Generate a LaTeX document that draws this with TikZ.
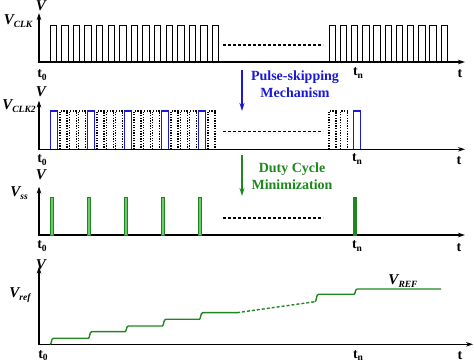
\documentclass[tikz,border=0pt]{standalone}
\usepackage{fontspec}
\setmainfont{Liberation Serif}
\usetikzlibrary{arrows.meta}
\definecolor{pblue}{RGB}{25,25,215}
\definecolor{pgreen}{RGB}{30,135,30}
\definecolor{lgreen}{RGB}{110,200,110}
\newcommand{\tl}[1]{t\raisebox{-0.4ex}{\fontsize{9.5}{10}\selectfont #1}}
\newcommand{\vl}[1]{V\raisebox{-0.45ex}{\fontsize{9.5}{10}\selectfont #1}}
\tikzset{
  axis/.style={line width=1.1pt,{Stealth[length=7pt,width=4.5pt]}-{Stealth[length=7pt,width=4.5pt]}},
  clk/.style={line width=0.9pt},
  dotclk/.style={line width=1.1pt,dash pattern=on 1.3pt off 1.3pt},
  dashline/.style={line width=1.2pt,dash pattern=on 3pt off 2pt},
  lbl/.style={inner sep=0pt,font=\fontsize{14}{16}\selectfont\bfseries},
  vlab/.style={inner sep=0pt,font=\fontsize{15}{17}\selectfont\bfseries\itshape},
  bluetxt/.style={inner sep=0pt,text=pblue,font=\fontsize{14}{16}\selectfont\bfseries},
  greentxt/.style={inner sep=0pt,text=pgreen,font=\fontsize{14}{16}\selectfont\bfseries},
  ssp/.style={draw=pgreen,fill=lgreen,line width=0.9pt},
  ref/.style={draw=pgreen,line width=1.4pt},
  bigarrow/.style={line width=1.3pt,-{Stealth[length=8pt,width=5pt]}}
}
\begin{document}
\begin{tikzpicture}[x=1pt,y=-1pt]
\useasboundingbox (0,0) rectangle (474,363);
% ---------- panel 1 : V_CLK ----------
\draw[axis] (39,13) -- (39,62) -- (465,62);
\foreach \i in {0,...,14}
  \draw[clk] ({50+11.6*\i},62) -- ++(0,-37) -- ++(6.5,0) -- ++(0,37);
\foreach \i in {0,...,10}
  \draw[clk] ({329+11.2*\i},62) -- ++(0,-37) -- ++(6.5,0) -- ++(0,37);
\draw[dashline] (223,45) -- (323,45);
\node[vlab] (v1) at (41,6) {V};
\node[vlab] (vclk) at (18,21) {\vl{CLK}};
\node[lbl] (t01) at (42,75) {\tl{0}};
\node[lbl] (tn1) at (358,73) {\tl{n}};
\node[lbl] (t1) at (460,74) {t};
% ---------- panel 2 : V_CLK2 ----------
\draw[axis] (39,100.5) -- (39,149.3) -- (465,149.3);
\foreach \i in {1,2,3,5,6,7,9,10,11,13,14,15,17}
  \draw[dotclk] ({50.7+9.25*\i},149.3) -- ++(0,-38.3) -- ++(7,0) -- ++(0,38.3);
\foreach \i in {0,4,8,12,16}
  \draw[clk,pblue,line width=1.1pt] ({50.7+9.25*\i},149.3) -- ++(0,-38.3) -- ++(7,0) -- ++(0,38.3);
\foreach \x in {329,340.7}
  \draw[dotclk] (\x,149.3) -- ++(0,-38.3) -- ++(7,0) -- ++(0,38.3);
\draw[clk,pblue,line width=1.1pt] (353.3,149.3) -- ++(0,-38.3) -- ++(7,0) -- ++(0,38.3);
\draw[dashline] (223,131.7) -- (323,131.7);
\node[vlab] (v2) at (41,92) {V};
\node[vlab] (vclk2) at (19,106) {\vl{CLK2}};
\node[lbl] (t02) at (42,160) {\tl{0}};
\node[lbl] (tn2) at (357,159) {\tl{n}};
\node[lbl] (t2) at (459,161) {t};
% ---------- panel 3 : V_ss ----------
\draw[axis] (39,186.5) -- (39,235) -- (465,235);
\foreach \i in {0,...,4}
  \draw[ssp] ({50.7+37*\i},235) rectangle ++(2.7,-37.3);
\draw[ssp,fill=pgreen] (353.3,235) rectangle ++(3.5,-37.3);
\draw[dashline] (223,218) -- (323,218);
\node[vlab] (v3) at (41,175) {V};
\node[vlab] (vss) at (19,193) {\vl{ss}};
\node[lbl] (t03) at (42,246) {\tl{0}};
\node[lbl] (tn3) at (357,246) {\tl{n}};
\node[lbl] (t3) at (459,248) {t};
% ---------- panel 4 : V_ref ----------
\draw[axis] (39,266.5) -- (39,344.3) -- (473,344.3);
\draw[ref] (50,344.3) .. controls (51.8,344.3) and (51,338.3) .. (53.5,338.3)
  -- (88.3,338.3) .. controls (90,338.3) and (89.3,331.7) .. (91.8,331.7)
  -- (125,331.7) .. controls (126.7,331.7) and (126,326) .. (128.5,326)
  -- (162.3,326) .. controls (164,326) and (163.3,319.3) .. (165.8,319.3)
  -- (199.3,319.3) .. controls (201,319.3) and (200.3,312.7) .. (202.8,312.7)
  -- (237,312.7);
\draw[ref,dash pattern=on 3pt off 2pt] (237,312.7) -- (315,301.7);
\draw[ref] (315,301.7) .. controls (316.7,301.7) and (316,294.3) .. (318.5,294.3)
  -- (354,294.3) .. controls (355.5,294.3) and (355,289) .. (357.3,289)
  -- (441,289);
\node[vlab] (v4) at (41,265) {V};
\node[vlab] (vref) at (20,295) {\vl{ref}};
\node[vlab] (vREF) at (403,281) {\vl{REF}};
\node[lbl] (t04) at (43,355.5) {\tl{0}};
\node[lbl] (tn4) at (358,355.5) {\tl{n}};
\node[lbl] (t4) at (460,356) {t};
% ---------- transition arrows ----------
\coordinate (b1) at (242,70);
\coordinate (b2) at (242,111);
\draw[bigarrow,pblue] (b1) -- (b2);
\node[bluetxt] (ps1) at (295,77) {Pulse-skipping};
\node[bluetxt] (ps2) at (295,93) {Mechanism};
\coordinate (g1) at (242,155);
\coordinate (g2) at (242,196);
\draw[bigarrow,pgreen] (g1) -- (g2);
\node[greentxt] (dc1) at (292,169.5) {Duty Cycle};
\node[greentxt] (dc2) at (292,185) {Minimization};
\end{tikzpicture}
\end{document}
